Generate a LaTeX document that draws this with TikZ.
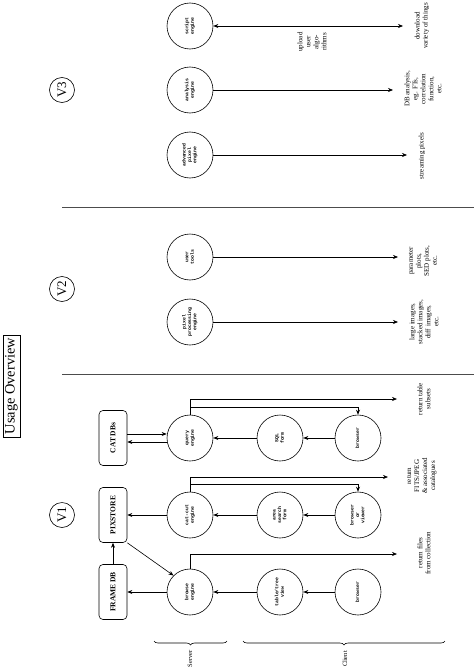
\documentclass[tikz,border=0pt]{standalone}
\usepackage{fontspec}
\setmainfont{Liberation Serif}
\setmonofont{Liberation Mono}
\usetikzlibrary{arrows.meta,decorations.pathreplacing}

\tikzset{
    every path/.style={line width=0.6pt},
    engine/.style={circle, draw, minimum size=46pt, inner sep=0pt,
        font=\ttfamily\bfseries\fontsize{4.8}{5.4}\selectfont},
    store/.style={draw, rounded corners=4pt, minimum width=28pt, minimum height=55pt,
        inner sep=0pt, font=\bfseries\fontsize{7.5}{9}\selectfont},
    note/.style={rotate=90, align=center, font=\fontsize{7}{8}\selectfont},
    version/.style={circle, draw, rotate=90, inner sep=1pt, minimum size=25pt,
        font=\fontsize{13}{14}\selectfont},
    flow/.style={-{Stealth[length=5pt,width=4pt]}},
    divider/.style={line width=0.9pt, black!70},
}
\newcommand{\vlab}[1]{\rotatebox{90}{\begin{tabular}{@{}c@{}}#1\end{tabular}}}

\begin{document}
\begin{tikzpicture}[x=1pt, y=-1pt]
    \useasboundingbox (0,0) rectangle (474,669);

    % Title and version marks
    \node[draw, rotate=90, inner xsep=3pt, inner ysep=2pt,
        font=\fontsize{14.4}{16}\selectfont] (title) at (11.5,386) {Usage Overview};
    \node[version] (v3) at (62,90) {V3};
    \node[version] (v2) at (62,289) {V2};
    \node[version] (v1) at (62,515) {V1};

    % Draw the dividers
    \draw[divider] (62,207) -- (474,207);
    \draw[divider] (62,374) -- (474,374);

    % V3
    \node[engine] (script) at (190,26) {\vlab{script\\engine}};
    \node[engine] (analysis) at (190,90) {\vlab{analysis\\engine}};
    \node[engine] (advpix) at (190,155) {\vlab{advanced\\pixel\\engine}};

    \coordinate (scriptOut) at (403,26);
    \coordinate (analysisOut) at (393,90);
    \coordinate (advpixOut) at (407,155);

    \draw[{Stealth[length=5pt,width=4pt]}-{Stealth[length=5pt,width=4pt]}] (script) -- (scriptOut);
    \draw[flow] (analysis) -- (analysisOut);
    \draw[flow] (advpix) -- (advpixOut);

    \node[note] (upload) at (312,42) {upload\\user\\algo-\\rithms};
    \node[note] (download) at (422,26) {download\\variety of things};
    \node[note] (dbana) at (423,89) {DB analysis,\\eg. FTs,\\correlation\\function,\\etc.};
    \node[note] (stream) at (422,156) {streaming pixels};

    % V2
    \node[engine] (usertools) at (190,257) {\vlab{user\\tools}};
    \node[engine] (pixproc) at (190,322) {\vlab{pixel\\processing\\engine}};

    \coordinate (usertoolsOut) at (398,257);
    \coordinate (pixprocOut) at (398,322);

    \draw[flow] (usertools) -- (usertoolsOut);
    \draw[flow] (pixproc) -- (pixprocOut);

    \node[note] (plots) at (423,261) {parameter\\plots,\\SED plots,\\etc.};
    \node[note] (images) at (424,322) {large images,\\stacked images,\\diff images,\\etc.};

    % V1 - server side
    \node[store] (catdb) at (113,438) {\rotatebox{90}{CAT DBs}};
    \node[store] (pixstore) at (113,515) {\rotatebox{90}{PIXSTORE}};
    \node[store] (framedb) at (113,592) {\rotatebox{90}{FRAME DB}};

    \node[engine] (query) at (190,438) {\vlab{query\\engine}};
    \node[engine] (catcut) at (190,515) {\vlab{cat-cut\\engine}};
    \node[engine] (browse) at (190,592) {\vlab{browse\\engine}};

    % V1 - client side
    \node[engine] (sqlform) at (280,438) {\vlab{SQL\\form}};
    \node[engine] (areaform) at (280,515) {\vlab{area\\search\\form}};
    \node[engine] (treeview) at (280,592) {\vlab{table/tree\\view}};

    \node[engine] (browserA) at (358,438) {\vlab{browser}};
    \node[engine] (browserB) at (358,515) {\vlab{browser\\or\\viewer}};
    \node[engine] (browserC) at (358,592) {\vlab{browser}};

    % Draw the requests
    \draw[flow] (browserA) -- (sqlform);
    \draw[flow] (sqlform) -- (query);
    \draw[flow] (browserB) -- (areaform);
    \draw[flow] (areaform) -- (catcut);
    \draw[flow] (browserC) -- (treeview);
    \draw[flow] (treeview) -- (browse);

    \draw[flow] ([yshift=4pt]catdb.east) -- ([yshift=4pt]query.west);
    \draw[flow] ([yshift=-4pt]query.west) -- ([yshift=-4pt]catdb.east);
    \draw[flow] (catcut) -- (pixstore);
    \draw[flow] (browse) -- (framedb);
    \draw[flow] (framedb) -- (pixstore);
    \draw[flow] (pixstore.south east) -- (browse.135);

    % Draw the returns
    \coordinate (retTable) at (397,399);
    \coordinate (qSplit) at (190,407);
    \coordinate (retFits) at (388,477);
    \coordinate (cSplit) at (190,484);
    \coordinate (retFiles) at (397,554);

    \draw[flow] (query.north) |- (retTable);
    \draw[flow] (qSplit) -| (browserA.north);
    \draw[flow] (catcut.north) |- (retFits);
    \draw[flow] (cSplit) -| (browserB.north);
    \draw[flow] (browse.north) |- (retFiles);

    \node[note] (tablesub) at (424,399) {return table\\subsets};
    \node[note] (fitsjpeg) at (422,476) {return\\FITS/JPEG\\\& associated\\catalogues};
    \node[note] (files) at (424,553) {return files\\from collection};

    % Server / Client braces
    \draw[decorate, decoration={brace, amplitude=4pt}] (227,641) -- (154,641);
    \draw[decorate, decoration={brace, amplitude=4pt}] (445,641) -- (243,641);
    \node[rotate=90, font=\fontsize{6.5}{7}\selectfont] (server) at (190,659) {Server};
    \node[rotate=90, font=\fontsize{6.5}{7}\selectfont] (client) at (345,659) {Client};
\end{tikzpicture}
\end{document}
